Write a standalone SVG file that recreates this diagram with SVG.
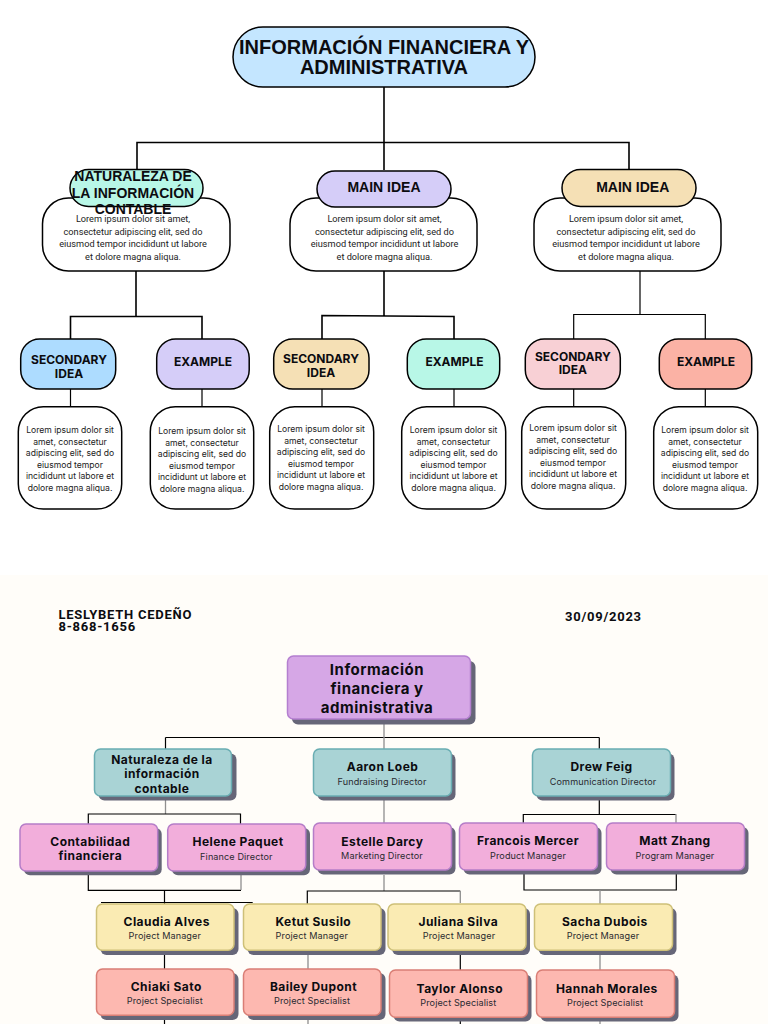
<svg xmlns="http://www.w3.org/2000/svg" width="768" height="1024" viewBox="0 0 768 1024">
<style>
text{text-anchor:middle;fill:#0c0c10}
.k{fill:none;stroke:#000;stroke-width:1.6}
.j{fill:none;stroke:#000;stroke-width:1.2}
.g{fill:none;stroke:#8f8f8f;stroke-width:1.3}
.o{stroke:#000;stroke-width:1.5}
.w{fill:#fff;stroke:#000;stroke-width:1.5}
.t{font:bold 20px "Liberation Sans",sans-serif}
.m{font:bold 14px "Liberation Sans",sans-serif}
.s{font:bold 12px Inter,sans-serif}
.l{font:9.2px Roboto,sans-serif;fill:#222}
.p{font:8.6px Inter,sans-serif;fill:#222}
.h{font:bold 13px Roboto,sans-serif;letter-spacing:.75px;text-anchor:start}
.n{font:bold 12px Inter,sans-serif;letter-spacing:.45px}
.r{font:9.1px Inter,sans-serif;fill:#2a2a30;letter-spacing:.1px}
.b{font:bold 15px Inter,sans-serif;letter-spacing:.55px}
.sh{fill:#666678}
.pu{fill:#D6A7E6;stroke:#B47FD0;stroke-width:1.5}
.te{fill:#A9D3D5;stroke:#69ADB2;stroke-width:1.5}
.pi{fill:#F2AEDB;stroke:#B57DC8;stroke-width:1.5}
.ye{fill:#FAEBB3;stroke:#CEC078;stroke-width:1.5}
.sa{fill:#FDB8B0;stroke:#D97E75;stroke-width:1.5}
</style>
<rect id="background" x="0" y="575" width="768" height="449" fill="#FFFDF9"/>
<g id="connectors">
<path class="k" d="M384 87V170M137 170V142.5H629V170"/>
<path class="k" d="M136 271V316.5M70.5 339V316.5H202V339"/>
<path class="k" d="M384 271V316M322 339V315.5L454 316.5V339"/>
<path class="j" d="M640 271V314.5M573.7 339V314.5H705.3V339"/>
<path class="j" d="M70.5 389V407M202 389V407M322 389V407M454 389V407M573.7 389V407M705.3 389V407"/>
<path class="j" d="M165.5 737.5H599.3M165.5 737.5V749M599.3 737.5V749"/>
<path class="g" d="M384 724V749M384 797V823"/>
<path class="g" d="M165.5 800V814"/>
<path class="j" d="M88.3 824V814H240.5V824"/>
<path class="j" d="M599.3 800V814.5M523.3 823V814.5H676"/>
<path class="g" d="M676 814V823"/>
<path class="j" d="M88.3 875V890.3H241"/>
<path class="g" d="M241 875V890"/>
<path class="j" d="M164.5 890.3V904M101 902.5H252.7"/>
<path class="g" d="M384 875V891"/>
<path class="j" d="M307.3 904V891H460.3"/>
<path class="g" d="M460.3 891V903"/>
<path class="j" d="M524 874V890H676.3V874"/>
<path class="g" d="M600 890V904"/>
<path class="j" d="M164.5 955V969M460.3 955V970M164.5 1019V1024M460.3 1021V1024"/>
<path class="g" d="M308 955V969M600 955V970M308 1019V1024M600 1021V1024"/>
</g>
<g id="title"><rect class="o" x="233" y="27" width="302" height="60" rx="30" fill="#C4E6FF"/><text class="t" x="384" y="54">INFORMACIÓN FINANCIERA Y</text><text class="t" x="384" y="74">ADMINISTRATIVA</text></g>

<g id="main1"><rect class="w" x="42.5" y="198" width="187.5" height="73" rx="26"/><rect class="o" x="70" y="169.5" width="133" height="37" rx="18.5" fill="#B8F7E7"/><text class="m" x="133" y="181">NATURALEZA DE</text><text class="m" x="133" y="197.5">LA INFORMACIÓN</text><text class="m" x="133" y="213.5">CONTABLE</text><text class="l" x="133" y="222.3">Lorem ipsum dolor sit amet,</text><text class="l" x="133" y="234.6">consectetur adipiscing elit, sed do</text><text class="l" x="133" y="247.3">eiusmod tempor incididunt ut labore</text><text class="l" x="133" y="260">et dolore magna aliqua.</text></g>
<g id="main2"><rect class="w" x="290" y="198" width="187" height="73" rx="26"/><rect class="o" x="317" y="171" width="134" height="36" rx="18" fill="#D5CDF8"/><text class="m" x="384" y="192">MAIN IDEA</text><text class="l" x="384.5" y="222.3">Lorem ipsum dolor sit amet,</text><text class="l" x="384.5" y="234.6">consectetur adipiscing elit, sed do</text><text class="l" x="384.5" y="247.3">eiusmod tempor incididunt ut labore</text><text class="l" x="384.5" y="260">et dolore magna aliqua.</text></g>
<g id="main3"><rect class="w" x="534" y="198" width="187" height="73" rx="26"/><rect class="o" x="562" y="169.5" width="134" height="37" rx="18.5" fill="#F5E0B5"/><text class="m" x="632.7" y="192">MAIN IDEA</text><text class="l" x="626" y="222.3">Lorem ipsum dolor sit amet,</text><text class="l" x="626" y="234.6">consectetur adipiscing elit, sed do</text><text class="l" x="626" y="247.3">eiusmod tempor incididunt ut labore</text><text class="l" x="626" y="260">et dolore magna aliqua.</text></g>

<g id="sec1"><rect class="o" x="20.7" y="339" width="95" height="50" rx="19" fill="#ADDCFF"/><text class="s" x="69" y="364">SECONDARY</text><text class="s" x="69" y="378">IDEA</text></g>
<g id="ex1"><rect class="o" x="156.7" y="339" width="92.5" height="50" rx="19" fill="#D5CDF8"/><text class="s" x="203" y="365.7">EXAMPLE</text></g>
<g id="sec2"><rect class="o" x="273.7" y="339" width="95.3" height="50" rx="19" fill="#F5E0B5"/><text class="s" x="321" y="362.7">SECONDARY</text><text class="s" x="321" y="376.7">IDEA</text></g>
<g id="ex2"><rect class="o" x="407.3" y="339" width="92.4" height="50" rx="19" fill="#B8F7E7"/><text class="s" x="454.5" y="365.7">EXAMPLE</text></g>
<g id="sec3"><rect class="o" x="525.3" y="339" width="95" height="50" rx="19" fill="#F8D0D5"/><text class="s" x="572.8" y="361.3">SECONDARY</text><text class="s" x="572.8" y="374">IDEA</text></g>
<g id="ex3"><rect class="o" x="659.3" y="339" width="92.4" height="50" rx="19" fill="#FBB2A5"/><text class="s" x="706" y="365.7">EXAMPLE</text></g>

<g id="desc1"><rect class="w" x="18.3" y="406.7" width="103.4" height="102.3" rx="25"/><text class="p" x="70" y="433.3">Lorem ipsum dolor sit</text><text class="p" x="70" y="445">amet, consectetur</text><text class="p" x="70" y="456.3">adipiscing elit, sed do</text><text class="p" x="70" y="468">eiusmod tempor</text><text class="p" x="70" y="479.3">incididunt ut labore et</text><text class="p" x="70" y="491">dolore magna aliqua.</text></g>
<g id="desc2"><rect class="w" x="150.3" y="406.7" width="103.4" height="102.3" rx="25"/><text class="p" x="202" y="434">Lorem ipsum dolor sit</text><text class="p" x="202" y="445.7">amet, consectetur</text><text class="p" x="202" y="457">adipiscing elit, sed do</text><text class="p" x="202" y="468.7">eiusmod tempor</text><text class="p" x="202" y="480">incididunt ut labore et</text><text class="p" x="202" y="491.7">dolore magna aliqua.</text></g>
<g id="desc3"><rect class="w" x="269.7" y="406.7" width="104" height="102.3" rx="25"/><text class="p" x="321" y="432.3">Lorem ipsum dolor sit</text><text class="p" x="321" y="444">amet, consectetur</text><text class="p" x="321" y="455.3">adipiscing elit, sed do</text><text class="p" x="321" y="467">eiusmod tempor</text><text class="p" x="321" y="478.3">incididunt ut labore et</text><text class="p" x="321" y="490">dolore magna aliqua.</text></g>
<g id="desc4"><rect class="w" x="401.7" y="406.7" width="104" height="102.3" rx="25"/><text class="p" x="453.5" y="433.3">Lorem ipsum dolor sit</text><text class="p" x="453.5" y="445">amet, consectetur</text><text class="p" x="453.5" y="456.3">adipiscing elit, sed do</text><text class="p" x="453.5" y="468">eiusmod tempor</text><text class="p" x="453.5" y="479.3">incididunt ut labore et</text><text class="p" x="453.5" y="491">dolore magna aliqua.</text></g>
<g id="desc5"><rect class="w" x="521.7" y="406.7" width="104" height="102.3" rx="25"/><text class="p" x="573" y="431.3">Lorem ipsum dolor sit</text><text class="p" x="573" y="443">amet, consectetur</text><text class="p" x="573" y="454.3">adipiscing elit, sed do</text><text class="p" x="573" y="466">eiusmod tempor</text><text class="p" x="573" y="477.3">incididunt ut labore et</text><text class="p" x="573" y="489">dolore magna aliqua.</text></g>
<g id="desc6"><rect class="w" x="653.7" y="406.7" width="104" height="102.3" rx="25"/><text class="p" x="705" y="433.3">Lorem ipsum dolor sit</text><text class="p" x="705" y="445">amet, consectetur</text><text class="p" x="705" y="456.3">adipiscing elit, sed do</text><text class="p" x="705" y="468">eiusmod tempor</text><text class="p" x="705" y="479.3">incididunt ut labore et</text><text class="p" x="705" y="491">dolore magna aliqua.</text></g>

<g id="author"><text class="h" x="58.5" y="619">LESLYBETH CEDEÑO</text><text class="h" x="58.5" y="631">8-868-1656</text></g>
<g id="date"><text class="h" x="565" y="621">30/09/2023</text></g>

<g id="root"><rect class="sh" x="292" y="661" width="183.5" height="63.5" rx="6"/><rect class="pu" x="287.5" y="656" width="183" height="63" rx="6"/><text class="b" x="377" y="675">Información</text><text class="b" x="377" y="694">financiera y</text><text class="b" x="377" y="713">administrativa</text></g>

<g id="t1"><rect class="sh" x="98.5" y="753.5" width="138" height="47" rx="6"/><rect class="te" x="94.5" y="749" width="137" height="47" rx="6"/><text class="n" x="162" y="764">Naturaleza de la</text><text class="n" x="162" y="778">información</text><text class="n" x="162" y="792.7">contable</text></g>
<g id="t2"><rect class="sh" x="317.5" y="753.5" width="138" height="47" rx="6"/><rect class="te" x="313.5" y="749" width="138" height="47" rx="6"/><text class="n" x="382.5" y="771">Aaron Loeb</text><text class="r" x="382" y="785">Fundraising Director</text></g>
<g id="t3"><rect class="sh" x="536.5" y="753.5" width="138" height="47" rx="6"/><rect class="te" x="532.5" y="749" width="138" height="47" rx="6"/><text class="n" x="601.5" y="771">Drew Feig</text><text class="r" x="603" y="785">Communication Director</text></g>

<g id="p1"><rect class="sh" x="24" y="828" width="137.7" height="47.3" rx="6"/><rect class="pi" x="20" y="824" width="137.7" height="47" rx="6"/><text class="n" x="90.3" y="846">Contabilidad</text><text class="n" x="90.3" y="860">financiera</text></g>
<g id="p2"><rect class="sh" x="172" y="828" width="138" height="47.3" rx="6"/><rect class="pi" x="167.7" y="824" width="138" height="47" rx="6"/><text class="n" x="238" y="846">Helene Paquet</text><text class="r" x="236.3" y="860">Finance Director</text></g>
<g id="p3"><rect class="sh" x="317.5" y="827" width="138" height="47.5" rx="6"/><rect class="pi" x="313.5" y="823" width="138" height="47" rx="6"/><text class="n" x="382.3" y="846">Estelle Darcy</text><text class="r" x="382" y="859">Marketing Director</text></g>
<g id="p4"><rect class="sh" x="463.5" y="827" width="138" height="47.5" rx="6"/><rect class="pi" x="459.5" y="823" width="138" height="47" rx="6"/><text class="n" x="528" y="845">Francois Mercer</text><text class="r" x="528" y="859">Product Manager</text></g>
<g id="p5"><rect class="sh" x="610.5" y="827" width="138" height="47.5" rx="6"/><rect class="pi" x="606.5" y="823" width="138" height="47" rx="6"/><text class="n" x="675" y="845">Matt Zhang</text><text class="r" x="675" y="859">Program Manager</text></g>

<g id="y1"><rect class="sh" x="100.5" y="908" width="138" height="47" rx="6"/><rect class="ye" x="96.5" y="904" width="137.5" height="46.3" rx="6"/><text class="n" x="166.7" y="926">Claudia Alves</text><text class="r" x="164.8" y="939.3">Project Manager</text></g>
<g id="y2"><rect class="sh" x="247.5" y="908" width="138" height="47" rx="6"/><rect class="ye" x="243.5" y="904" width="137.5" height="46.3" rx="6"/><text class="n" x="313.3" y="926">Ketut Susilo</text><text class="r" x="311.8" y="939.3">Project Manager</text></g>
<g id="y3"><rect class="sh" x="392" y="908" width="138" height="47" rx="6"/><rect class="ye" x="388" y="904" width="138" height="46.3" rx="6"/><text class="n" x="458.3" y="926">Juliana Silva</text><text class="r" x="459" y="939.3">Project Manager</text></g>
<g id="y4"><rect class="sh" x="538.5" y="908" width="138" height="47" rx="6"/><rect class="ye" x="534.5" y="904" width="138" height="46.3" rx="6"/><text class="n" x="604.8" y="926">Sacha Dubois</text><text class="r" x="603" y="939.3">Project Manager</text></g>

<g id="s1"><rect class="sh" x="100.5" y="973" width="138" height="47" rx="6"/><rect class="sa" x="96.5" y="969" width="137.5" height="46.3" rx="6"/><text class="n" x="166.3" y="991">Chiaki Sato</text><text class="r" x="164.8" y="1004">Project Specialist</text></g>
<g id="s2"><rect class="sh" x="247.5" y="973" width="138" height="47" rx="6"/><rect class="sa" x="243.5" y="969" width="137.5" height="46.3" rx="6"/><text class="n" x="313.5" y="991">Bailey Dupont</text><text class="r" x="312" y="1004">Project Specialist</text></g>
<g id="s3"><rect class="sh" x="393.5" y="974.5" width="138" height="47" rx="6"/><rect class="sa" x="389.5" y="970" width="138" height="47.3" rx="6"/><text class="n" x="459.8" y="993">Taylor Alonso</text><text class="r" x="458.3" y="1006">Project Specialist</text></g>
<g id="s4"><rect class="sh" x="540.5" y="974.5" width="138" height="47" rx="6"/><rect class="sa" x="536.5" y="970" width="138" height="47.3" rx="6"/><text class="n" x="606.8" y="993">Hannah Morales</text><text class="r" x="605" y="1006">Project Specialist</text></g>
</svg>
